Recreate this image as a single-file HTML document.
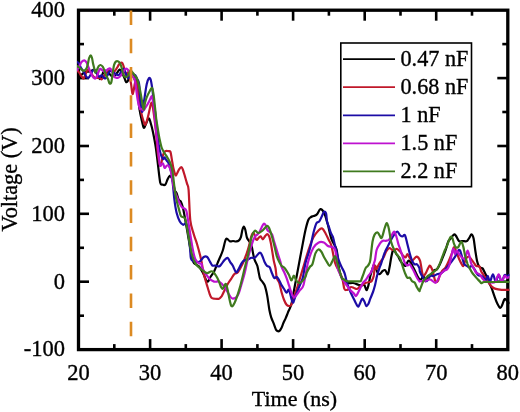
<!DOCTYPE html>
<html><head><meta charset="utf-8"><style>
html,body{margin:0;padding:0;background:#fff;}
svg{display:block;}
text{font-family:"Liberation Serif","Times New Roman",serif;fill:#000;stroke:#000;stroke-width:0.35px;}
</style></head><body>
<svg width="520" height="412" viewBox="0 0 520 412">
<defs><clipPath id="pc"><rect x="77" y="8.5" width="432.5" height="342.5"/></clipPath></defs>
<rect width="520" height="412" fill="#fff"/>
<g stroke="#000" stroke-width="2.6"><line x1="114.3" y1="349.6" x2="114.3" y2="344.1"/><line x1="114.3" y1="10.2" x2="114.3" y2="15.7"/><line x1="150.1" y1="349.6" x2="150.1" y2="339.1"/><line x1="150.1" y1="10.2" x2="150.1" y2="20.7"/><line x1="185.8" y1="349.6" x2="185.8" y2="344.1"/><line x1="185.8" y1="10.2" x2="185.8" y2="15.7"/><line x1="221.6" y1="349.6" x2="221.6" y2="339.1"/><line x1="221.6" y1="10.2" x2="221.6" y2="20.7"/><line x1="257.4" y1="349.6" x2="257.4" y2="344.1"/><line x1="257.4" y1="10.2" x2="257.4" y2="15.7"/><line x1="293.1" y1="349.6" x2="293.1" y2="339.1"/><line x1="293.1" y1="10.2" x2="293.1" y2="20.7"/><line x1="328.9" y1="349.6" x2="328.9" y2="344.1"/><line x1="328.9" y1="10.2" x2="328.9" y2="15.7"/><line x1="364.7" y1="349.6" x2="364.7" y2="339.1"/><line x1="364.7" y1="10.2" x2="364.7" y2="20.7"/><line x1="400.5" y1="349.6" x2="400.5" y2="344.1"/><line x1="400.5" y1="10.2" x2="400.5" y2="15.7"/><line x1="436.2" y1="349.6" x2="436.2" y2="339.1"/><line x1="436.2" y1="10.2" x2="436.2" y2="20.7"/><line x1="472.0" y1="349.6" x2="472.0" y2="344.1"/><line x1="472.0" y1="10.2" x2="472.0" y2="15.7"/><line x1="78.5" y1="315.7" x2="84.0" y2="315.7"/><line x1="507.8" y1="315.7" x2="502.3" y2="315.7"/><line x1="78.5" y1="281.7" x2="89.0" y2="281.7"/><line x1="507.8" y1="281.7" x2="497.3" y2="281.7"/><line x1="78.5" y1="247.8" x2="84.0" y2="247.8"/><line x1="507.8" y1="247.8" x2="502.3" y2="247.8"/><line x1="78.5" y1="213.8" x2="89.0" y2="213.8"/><line x1="507.8" y1="213.8" x2="497.3" y2="213.8"/><line x1="78.5" y1="179.9" x2="84.0" y2="179.9"/><line x1="507.8" y1="179.9" x2="502.3" y2="179.9"/><line x1="78.5" y1="146.0" x2="89.0" y2="146.0"/><line x1="507.8" y1="146.0" x2="497.3" y2="146.0"/><line x1="78.5" y1="112.0" x2="84.0" y2="112.0"/><line x1="507.8" y1="112.0" x2="502.3" y2="112.0"/><line x1="78.5" y1="78.1" x2="89.0" y2="78.1"/><line x1="507.8" y1="78.1" x2="497.3" y2="78.1"/><line x1="78.5" y1="44.1" x2="84.0" y2="44.1"/><line x1="507.8" y1="44.1" x2="502.3" y2="44.1"/></g>
<rect x="78.5" y="10.2" width="429.3" height="339.4" fill="none" stroke="#000" stroke-width="3.3"/>
<g clip-path="url(#pc)" fill="none" stroke-width="2.2" stroke-linejoin="round" stroke-linecap="round">
<path d="M77.0,74.0 C77.5,74.3 79.0,76.1 80.0,76.0 C81.0,75.9 82.0,74.2 83.0,73.5 C84.0,72.8 85.0,72.3 86.0,72.0 C87.0,71.7 88.0,71.8 89.0,71.5 C90.0,71.2 91.2,70.8 92.0,70.5 C92.8,70.2 93.4,69.3 94.0,69.6 C94.6,69.8 95.1,71.1 95.7,72.0 C96.3,72.9 96.8,73.7 97.5,74.9 C98.2,76.1 99.1,78.7 99.8,79.0 C100.5,79.3 101.0,77.8 101.6,76.6 C102.2,75.4 102.8,73.0 103.5,72.0 C104.2,71.0 104.8,70.5 105.5,70.5 C106.2,70.5 107.2,71.2 108.0,72.0 C108.8,72.8 109.7,74.3 110.5,75.0 C111.3,75.7 111.9,76.4 112.7,76.4 C113.5,76.4 114.6,75.7 115.4,75.0 C116.2,74.3 116.8,73.2 117.5,72.3 C118.2,71.4 118.9,69.8 119.5,69.6 C120.1,69.4 120.6,70.2 121.2,71.0 C121.8,71.8 122.3,73.2 122.9,74.4 C123.5,75.6 124.1,77.2 124.6,78.4 C125.1,79.7 125.5,81.4 126.0,81.9 C126.5,82.4 127.2,81.9 127.7,81.2 C128.2,80.5 128.5,79.0 129.0,77.8 C129.5,76.6 129.8,74.3 130.5,74.0 C131.2,73.7 132.0,74.1 133.0,76.0 C134.0,77.9 135.6,79.8 136.7,85.2 C137.8,90.6 138.5,102.5 139.4,108.5 C140.3,114.5 141.3,118.1 142.0,121.3 C142.7,124.5 143.1,127.1 143.7,127.7 C144.3,128.3 144.7,126.6 145.5,125.0 C146.3,123.4 147.9,118.5 148.8,118.3 C149.7,118.1 150.2,121.5 150.9,123.8 C151.6,126.1 152.2,128.4 153.0,132.3 C153.8,136.2 155.0,142.1 155.8,147.5 C156.6,152.9 157.3,159.2 158.0,165.0 C158.7,170.8 159.5,179.1 160.2,182.4 C160.9,185.7 161.6,184.2 162.4,184.6 C163.2,185.0 164.5,185.4 165.3,184.6 C166.2,183.8 166.8,180.9 167.5,179.5 C168.2,178.1 169.0,176.2 169.7,175.9 C170.4,175.7 171.2,176.8 171.8,178.0 C172.4,179.2 172.8,181.0 173.3,183.0 C173.8,185.0 174.2,188.3 174.7,190.0 C175.2,191.7 175.8,191.4 176.5,193.0 C177.2,194.6 178.0,198.2 178.7,199.7 C179.4,201.2 180.2,200.4 180.9,201.8 C181.6,203.2 182.4,205.4 183.1,208.4 C183.8,211.4 184.6,216.0 185.3,220.0 C186.0,224.0 186.8,228.2 187.5,232.4 C188.2,236.6 189.0,241.0 189.7,245.0 C190.4,249.0 191.1,253.4 191.8,256.4 C192.5,259.4 192.8,261.4 194.0,263.0 C195.2,264.6 197.3,264.6 198.8,266.3 C200.3,268.0 201.6,270.4 203.0,273.0 C204.4,275.6 206.0,281.0 207.3,281.6 C208.6,282.2 209.6,278.2 210.7,276.5 C211.8,274.8 212.9,273.8 214.1,271.4 C215.3,269.0 216.6,265.4 218.0,262.0 C219.4,258.6 221.3,254.8 222.6,251.0 C223.9,247.2 224.8,240.7 226.0,239.1 C227.2,237.5 228.8,241.1 230.0,241.4 C231.2,241.7 232.0,241.0 233.0,241.0 C234.0,241.0 235.1,241.6 236.0,241.5 C236.9,241.4 237.9,241.4 238.7,240.7 C239.5,240.0 240.3,238.9 240.9,237.1 C241.5,235.3 241.9,231.6 242.4,229.8 C242.9,228.1 243.3,226.6 243.8,226.6 C244.3,226.6 244.8,228.1 245.3,229.8 C245.8,231.6 246.3,235.4 246.8,237.1 C247.3,238.8 247.6,239.0 248.2,240.0 C248.8,241.0 249.8,241.7 250.4,242.9 C251.0,244.1 251.4,245.4 251.9,247.3 C252.4,249.2 252.8,252.4 253.3,254.6 C253.8,256.8 254.1,258.5 254.8,260.4 C255.5,262.3 256.5,263.1 257.4,266.0 C258.2,268.9 259.1,275.5 259.9,278.1 C260.7,280.7 261.5,280.5 262.3,281.7 C263.1,282.9 263.9,283.2 264.7,285.4 C265.5,287.6 266.3,291.0 267.1,295.1 C267.9,299.2 268.7,306.3 269.4,310.0 C270.1,313.7 270.4,314.9 271.2,317.3 C272.0,319.7 273.3,322.5 274.1,324.6 C274.9,326.7 275.4,328.6 276.0,329.7 C276.6,330.8 277.4,331.0 278.0,331.2 C278.6,331.4 278.9,331.4 279.5,330.9 C280.1,330.4 280.6,329.5 281.3,328.2 C282.0,326.9 282.8,324.4 283.5,322.8 C284.2,321.2 284.9,320.0 285.6,318.4 C286.3,316.8 287.2,314.4 287.8,312.9 C288.4,311.3 289.0,310.2 289.5,309.1 C290.0,308.0 290.2,307.7 290.6,306.4 C291.0,305.1 291.3,305.1 292.0,301.5 C292.7,297.9 293.8,291.3 295.0,285.0 C296.2,278.7 297.7,270.8 299.0,263.7 C300.3,256.6 301.9,248.2 303.0,242.4 C304.1,236.6 304.8,232.8 305.7,229.0 C306.6,225.2 307.5,221.7 308.4,219.7 C309.3,217.7 310.2,217.6 311.0,217.0 C311.8,216.4 312.4,216.5 313.4,216.1 C314.4,215.7 315.7,215.6 316.9,214.4 C318.1,213.2 319.2,209.4 320.4,209.1 C321.6,208.8 322.7,210.2 323.9,212.6 C325.1,214.9 326.2,218.8 327.5,223.2 C328.8,227.6 330.0,234.8 331.5,239.2 C333.0,243.6 335.2,244.5 336.5,249.4 C337.8,254.3 338.1,263.9 339.1,268.9 C340.1,273.9 341.1,277.1 342.6,279.5 C344.1,281.9 346.2,282.4 347.9,283.0 C349.6,283.6 351.2,282.7 353.0,283.0 C354.8,283.3 357.1,284.4 358.5,284.8 C359.9,285.2 360.5,285.5 361.5,285.5 C362.5,285.5 363.5,284.2 364.3,285.0 C365.1,285.8 365.7,289.5 366.3,290.0 C366.9,290.5 367.2,289.2 367.7,288.0 C368.1,286.8 368.6,284.7 369.0,282.7 C369.4,280.7 369.8,278.2 370.3,276.0 C370.9,273.8 371.6,271.1 372.3,269.3 C373.0,267.5 373.4,264.7 374.3,265.3 C375.2,265.9 376.7,271.2 377.6,272.7 C378.6,274.1 379.1,274.3 380.0,274.0 C380.9,273.7 381.8,271.6 382.7,271.0 C383.6,270.4 384.3,269.6 385.2,270.2 C386.1,270.8 387.1,274.8 387.8,274.4 C388.5,274.0 388.9,270.4 389.5,267.6 C390.1,264.8 390.6,260.2 391.2,257.4 C391.8,254.6 392.3,251.7 392.9,250.6 C393.5,249.5 394.0,250.0 394.6,250.6 C395.2,251.2 395.7,253.1 396.3,254.0 C396.9,254.9 397.3,254.8 398.0,256.0 C398.7,257.2 399.6,259.6 400.5,261.0 C401.4,262.4 402.2,263.4 403.1,264.2 C404.0,265.0 404.8,266.5 405.6,265.9 C406.5,265.3 407.4,261.4 408.2,260.8 C409.0,260.2 409.8,261.4 410.7,262.5 C411.6,263.6 412.4,265.9 413.3,267.6 C414.2,269.3 415.0,271.0 415.8,272.7 C416.6,274.4 417.5,276.7 418.4,277.8 C419.2,278.9 420.0,279.8 420.9,279.5 C421.8,279.2 422.7,275.7 423.5,276.0 C424.3,276.3 424.8,281.0 425.5,281.3 C426.2,281.6 426.9,278.9 427.9,277.7 C428.9,276.5 430.6,275.2 431.6,274.0 C432.6,272.8 433.1,271.2 434.0,270.4 C434.9,269.6 436.0,270.3 437.0,269.2 C438.0,268.1 439.1,265.7 440.0,264.0 C440.9,262.3 441.2,261.2 442.1,259.0 C443.0,256.8 444.5,253.3 445.5,250.5 C446.5,247.7 447.2,244.0 448.1,242.0 C449.0,240.0 449.8,239.7 450.6,238.6 C451.5,237.5 452.5,235.9 453.2,235.2 C453.9,234.5 454.3,234.1 454.9,234.4 C455.5,234.7 455.9,235.8 456.6,236.9 C457.3,238.0 458.2,240.5 459.1,241.2 C460.0,241.9 460.9,241.2 461.7,241.2 C462.5,241.2 463.3,241.2 464.2,241.2 C465.1,241.2 465.9,241.8 466.8,241.2 C467.7,240.6 468.5,238.9 469.3,237.8 C470.1,236.7 470.8,234.3 471.5,234.4 C472.2,234.5 473.0,235.9 473.6,238.6 C474.2,241.3 474.7,246.8 475.3,250.5 C475.9,254.2 476.4,258.1 477.0,260.7 C477.6,263.2 478.0,264.6 478.7,265.8 C479.4,267.0 480.3,267.6 481.0,268.0 C481.7,268.4 481.9,267.4 482.7,268.5 C483.5,269.6 484.6,272.1 485.6,274.3 C486.6,276.5 487.5,279.4 488.5,281.6 C489.5,283.8 490.4,285.1 491.4,287.5 C492.4,289.9 493.4,293.5 494.4,296.2 C495.4,298.9 496.3,301.6 497.3,303.5 C498.3,305.4 499.4,307.6 500.2,307.9 C501.0,308.1 501.5,306.5 502.2,305.0 C502.9,303.5 503.8,299.8 504.6,299.1 C505.4,298.4 506.2,300.0 506.9,300.6 C507.6,301.2 508.6,302.6 509.0,303.0" stroke="#000000"/>
<path d="M77.0,70.0 C77.4,70.4 78.5,71.7 79.2,72.6 C79.9,73.5 80.3,74.6 80.9,75.5 C81.5,76.4 82.2,77.3 82.7,77.8 C83.2,78.3 83.4,78.9 83.8,78.4 C84.2,77.9 84.8,76.2 85.3,75.0 C85.8,73.8 86.3,72.3 86.7,71.4 C87.1,70.5 87.4,69.7 87.9,69.6 C88.4,69.5 88.9,70.3 89.5,71.0 C90.1,71.7 90.8,73.0 91.5,74.0 C92.2,75.0 93.2,76.3 94.0,77.0 C94.8,77.7 95.5,77.9 96.5,78.0 C97.5,78.1 99.0,77.5 99.8,77.8 C100.6,78.0 101.0,79.6 101.6,79.5 C102.2,79.4 102.8,78.1 103.5,77.0 C104.2,75.9 105.2,74.1 106.0,73.0 C106.8,71.9 107.7,70.9 108.5,70.5 C109.3,70.1 110.1,70.3 111.0,70.5 C111.9,70.7 113.1,72.0 114.1,71.6 C115.1,71.2 116.0,69.3 116.8,68.2 C117.6,67.1 118.1,65.7 118.8,64.8 C119.5,63.9 120.3,63.0 120.9,62.8 C121.5,62.6 122.1,62.9 122.6,63.5 C123.0,64.1 123.3,65.1 123.6,66.2 C123.9,67.3 124.2,68.5 124.6,70.0 C125.0,71.5 125.4,74.8 126.0,75.2 C126.6,75.6 127.4,72.0 128.0,72.3 C128.6,72.6 128.9,75.4 129.4,77.2 C129.9,79.0 130.3,80.2 130.9,83.0 C131.5,85.8 132.0,94.4 132.8,94.0 C133.6,93.6 134.8,80.7 135.7,80.4 C136.6,80.1 137.1,86.8 138.0,92.0 C138.9,97.2 140.2,107.1 141.1,111.9 C142.0,116.7 142.8,118.9 143.5,121.0 C144.2,123.1 144.7,125.4 145.4,124.7 C146.1,124.0 147.1,119.8 147.9,117.0 C148.7,114.2 149.4,110.1 150.0,107.7 C150.6,105.3 151.0,102.5 151.5,102.5 C152.0,102.5 152.3,103.4 153.0,108.0 C153.7,112.6 155.1,123.0 155.8,130.0 C156.6,137.0 156.9,144.4 157.5,150.0 C158.1,155.6 158.9,161.0 159.5,163.5 C160.1,166.0 160.3,166.5 160.9,165.0 C161.5,163.5 162.4,157.0 163.1,154.7 C163.8,152.4 164.5,151.7 165.3,151.1 C166.2,150.5 167.3,151.0 168.2,151.1 C169.0,151.2 169.8,150.5 170.4,151.8 C171.0,153.1 171.3,156.4 171.8,159.1 C172.3,161.8 172.7,165.1 173.3,167.8 C173.9,170.5 174.9,174.1 175.5,175.1 C176.1,176.1 176.3,174.7 176.9,173.7 C177.5,172.7 178.4,170.4 179.1,169.3 C179.8,168.2 180.7,167.1 181.3,167.1 C181.9,167.1 182.2,167.7 182.8,169.3 C183.4,170.9 184.3,174.2 185.0,176.6 C185.7,179.0 186.5,181.7 187.1,183.9 C187.7,186.1 188.1,183.9 188.6,190.0 C189.1,196.1 189.5,213.1 190.3,220.4 C191.2,227.7 192.6,230.0 193.7,234.0 C194.8,238.0 195.8,239.8 197.1,244.2 C198.4,248.6 200.2,255.4 201.3,260.4 C202.4,265.4 202.8,269.8 203.8,274.0 C204.8,278.2 206.2,282.5 207.2,285.9 C208.2,289.3 209.1,292.4 209.8,294.4 C210.5,296.4 210.8,297.1 211.5,297.8 C212.2,298.5 212.7,298.6 214.0,298.7 C215.3,298.8 217.8,299.1 219.1,298.7 C220.4,298.3 220.8,297.4 221.7,296.1 C222.5,294.8 223.2,293.0 224.2,291.0 C225.2,289.0 226.5,286.2 227.6,284.2 C228.7,282.2 229.9,280.8 231.0,279.1 C232.1,277.4 233.3,275.1 234.4,274.0 C235.5,272.9 236.4,274.1 237.8,272.3 C239.2,270.5 241.8,265.4 243.0,263.0 C244.2,260.6 244.4,259.6 245.0,258.0 C245.6,256.4 246.1,255.1 246.8,253.1 C247.5,251.1 248.3,248.5 249.0,245.8 C249.7,243.1 250.5,239.2 251.1,237.1 C251.7,235.0 252.1,234.0 252.6,233.4 C253.1,232.8 253.5,232.7 254.0,233.5 C254.5,234.3 255.0,237.4 255.5,238.5 C256.0,239.6 256.5,240.1 257.0,240.0 C257.5,239.9 257.9,238.6 258.5,238.0 C259.1,237.4 259.9,236.1 260.6,236.3 C261.3,236.5 262.1,239.3 262.8,239.3 C263.5,239.3 264.3,237.2 265.0,236.3 C265.7,235.5 266.5,234.2 267.2,234.2 C267.9,234.2 268.6,235.1 269.2,236.5 C269.8,237.9 270.3,240.4 270.8,242.9 C271.3,245.4 271.8,248.7 272.3,251.6 C272.8,254.5 273.2,257.7 273.7,260.4 C274.2,263.1 275.0,265.1 275.5,268.0 C276.0,270.9 276.2,275.6 276.8,278.1 C277.4,280.6 278.5,280.6 279.3,283.0 C280.1,285.4 280.9,289.9 281.7,292.7 C282.5,295.5 283.3,298.0 284.1,300.0 C284.9,302.0 285.8,303.8 286.6,304.8 C287.4,305.8 288.2,306.0 289.0,306.0 C289.8,306.0 290.6,306.2 291.4,304.8 C292.2,303.4 292.8,300.6 293.8,297.5 C294.8,294.4 296.0,291.3 297.5,286.5 C299.0,281.7 301.0,274.8 302.8,268.9 C304.6,263.0 306.3,256.6 308.1,251.3 C309.9,246.0 311.6,240.8 313.4,237.3 C315.2,233.8 317.2,231.7 318.7,230.2 C320.2,228.7 321.0,227.9 322.2,228.5 C323.4,229.1 324.5,231.6 325.7,233.7 C326.9,235.8 328.2,238.8 329.2,240.8 C330.2,242.9 330.5,242.3 331.5,246.0 C332.5,249.7 333.8,258.7 335.0,262.7 C336.2,266.7 337.3,267.3 338.5,270.0 C339.7,272.7 341.3,275.6 342.3,278.7 C343.3,281.8 343.6,286.8 344.3,288.7 C345.0,290.6 345.6,289.9 346.3,290.0 C347.0,290.1 347.5,289.8 348.3,289.3 C349.1,288.8 350.1,287.2 351.0,287.0 C351.9,286.8 353.0,287.7 354.0,288.0 C355.0,288.3 356.1,289.2 357.0,289.0 C357.9,288.8 358.7,287.6 359.5,287.0 C360.3,286.4 360.7,286.0 361.7,285.3 C362.7,284.6 364.2,283.6 365.5,283.0 C366.8,282.4 368.7,282.3 369.7,282.0 C370.7,281.7 371.0,282.0 371.7,281.0 C372.4,280.0 373.1,278.5 373.7,276.0 C374.2,273.5 374.5,267.1 375.0,265.9 C375.5,264.7 376.1,269.1 376.7,269.0 C377.3,268.9 377.8,266.3 378.5,265.0 C379.2,263.7 380.2,262.3 381.0,261.0 C381.8,259.7 382.6,259.1 383.5,257.4 C384.4,255.7 385.5,252.6 386.5,251.0 C387.5,249.4 388.6,248.2 389.5,248.0 C390.4,247.8 391.1,249.5 392.0,249.8 C392.9,250.1 393.8,250.0 394.6,249.8 C395.5,249.7 396.1,248.5 397.1,248.9 C398.1,249.3 399.5,250.9 400.5,252.0 C401.5,253.1 402.2,254.8 403.1,255.7 C404.0,256.6 404.9,257.7 405.6,257.4 C406.3,257.1 406.7,254.1 407.3,254.0 C407.9,253.9 408.3,255.5 409.0,256.6 C409.7,257.7 410.8,260.4 411.6,260.8 C412.4,261.2 413.1,259.7 414.0,259.0 C414.9,258.3 415.7,256.3 416.7,256.6 C417.7,256.9 419.0,257.8 420.0,260.7 C421.0,263.6 421.8,272.0 422.6,274.3 C423.5,276.6 424.1,275.4 425.1,274.3 C426.1,273.2 427.6,268.9 428.5,267.5 C429.4,266.1 429.5,265.2 430.2,265.8 C430.9,266.4 431.8,268.4 432.7,271.0 C433.6,273.6 434.4,279.4 435.3,281.1 C436.2,282.8 437.1,282.0 437.8,281.1 C438.5,280.2 438.9,277.7 439.6,276.0 C440.3,274.3 441.1,272.3 442.1,270.9 C443.1,269.5 444.4,269.2 445.5,267.5 C446.6,265.8 447.8,263.2 448.9,260.7 C450.0,258.1 451.4,254.5 452.3,252.2 C453.2,249.9 453.3,247.1 454.0,247.1 C454.7,247.1 455.8,250.2 456.6,252.2 C457.5,254.2 458.2,257.0 459.1,259.0 C460.0,261.0 461.0,263.0 461.7,264.1 C462.4,265.2 462.7,266.7 463.4,265.8 C464.1,264.9 465.0,260.6 465.9,259.0 C466.8,257.4 467.6,256.5 468.5,256.5 C469.4,256.5 470.1,258.0 471.0,259.0 C471.9,260.0 472.8,261.3 473.6,262.4 C474.5,263.5 475.1,265.1 476.1,265.8 C477.1,266.5 478.6,265.7 479.5,266.6 C480.4,267.5 480.4,269.9 481.2,271.4 C482.0,272.9 483.2,274.3 484.2,275.8 C485.2,277.3 486.1,278.8 487.1,280.2 C488.1,281.6 489.0,283.3 490.0,284.5 C491.0,285.7 491.9,286.8 492.9,287.5 C493.9,288.2 494.4,288.5 495.8,288.9 C497.2,289.3 499.4,289.6 501.6,289.8 C503.8,290.0 507.8,289.8 509.0,289.8" stroke="#C0182A"/>
<path d="M77.0,62.0 C77.4,62.3 78.5,62.8 79.2,63.8 C79.9,64.8 80.2,66.7 80.9,67.9 C81.6,69.1 82.5,69.7 83.2,70.8 C83.9,71.9 84.4,73.2 85.0,74.3 C85.6,75.4 86.1,76.6 86.7,77.2 C87.3,77.8 87.9,78.2 88.5,77.8 C89.1,77.4 89.8,76.2 90.5,75.0 C91.2,73.8 91.9,71.6 92.6,70.8 C93.3,70.0 93.8,69.8 94.5,70.0 C95.2,70.2 95.9,71.2 96.5,72.0 C97.1,72.8 97.5,74.2 98.0,75.0 C98.5,75.8 99.0,76.9 99.5,77.0 C100.0,77.1 100.5,75.8 101.0,75.5 C101.5,75.2 101.7,75.1 102.2,75.5 C102.7,75.9 103.3,77.3 103.9,77.8 C104.5,78.3 105.0,78.8 105.6,78.4 C106.2,78.0 106.8,76.6 107.4,75.5 C108.0,74.4 108.5,72.8 109.1,72.0 C109.7,71.2 110.2,70.8 110.9,70.8 C111.6,70.8 112.2,71.5 113.0,72.0 C113.8,72.5 114.5,73.5 115.5,74.0 C116.5,74.5 117.9,75.3 118.8,75.0 C119.7,74.7 120.3,73.0 121.0,72.0 C121.7,71.0 122.4,69.3 122.9,68.9 C123.5,68.5 123.8,68.9 124.3,69.6 C124.8,70.3 125.1,71.9 125.6,73.0 C126.0,74.1 126.5,75.1 127.0,76.0 C127.5,76.9 127.8,78.4 128.4,78.4 C129.0,78.4 129.8,76.8 130.5,76.0 C131.2,75.2 131.7,73.5 132.3,73.3 C132.9,73.1 133.5,74.3 134.0,74.6 C134.5,74.9 134.7,74.5 135.2,75.2 C135.7,76.0 136.5,77.6 137.2,79.1 C137.8,80.6 138.5,79.5 139.1,84.0 C139.7,88.5 140.4,101.4 141.0,106.0 C141.6,110.6 141.8,113.0 142.4,111.5 C143.0,110.0 143.9,101.8 144.6,97.3 C145.3,92.8 146.0,87.4 146.7,84.2 C147.4,81.0 148.2,79.0 148.9,78.2 C149.6,77.4 150.2,78.3 150.6,79.3 C151.0,80.3 151.2,82.1 151.6,84.2 C151.9,86.3 152.3,88.7 152.7,91.8 C153.1,94.9 153.3,98.9 153.8,102.8 C154.3,106.7 155.0,110.5 155.5,115.0 C156.0,119.5 156.5,125.1 157.0,130.0 C157.5,134.9 158.0,140.5 158.7,144.6 C159.3,148.7 160.2,152.3 160.9,154.7 C161.6,157.1 162.5,158.6 163.1,159.1 C163.7,159.6 164.0,157.2 164.6,157.5 C165.2,157.8 166.0,159.7 166.7,160.6 C167.3,161.5 167.9,161.6 168.5,163.0 C169.1,164.4 169.8,167.3 170.4,169.3 C171.0,171.3 171.3,171.8 171.8,175.0 C172.3,178.2 172.9,184.6 173.3,188.7 C173.7,192.8 173.9,195.7 174.4,199.7 C174.9,203.7 175.7,209.2 176.6,212.8 C177.5,216.4 178.7,219.5 179.8,221.5 C180.9,223.5 182.0,224.4 183.1,224.8 C184.2,225.2 185.5,222.1 186.4,223.7 C187.3,225.3 188.0,230.2 188.6,234.6 C189.2,239.0 189.8,246.2 190.2,250.2 C190.6,254.2 190.4,256.8 191.0,258.7 C191.6,260.6 192.6,260.7 193.6,261.3 C194.6,261.9 195.9,262.2 197.0,262.1 C198.1,262.1 199.3,261.9 200.4,261.0 C201.5,260.1 202.7,257.7 203.8,257.0 C204.9,256.3 206.2,256.3 207.2,257.0 C208.2,257.7 209.0,259.9 209.8,261.3 C210.7,262.7 211.3,264.8 212.3,265.5 C213.3,266.2 214.6,265.4 215.7,265.5 C216.8,265.6 218.1,266.7 219.1,266.4 C220.1,266.1 220.8,264.8 221.7,263.8 C222.5,262.8 223.2,261.4 224.2,260.4 C225.2,259.4 226.6,257.6 227.6,257.9 C228.6,258.2 229.3,260.8 230.2,262.1 C231.0,263.4 231.7,263.8 232.7,265.5 C233.7,267.2 235.1,271.7 236.1,272.3 C237.1,272.9 237.5,270.8 238.7,268.9 C239.8,267.0 241.4,262.8 243.0,261.2 C244.6,259.6 246.7,260.1 248.1,259.5 C249.5,258.9 250.3,258.1 251.5,257.8 C252.7,257.5 253.6,258.4 255.0,257.5 C256.4,256.6 258.7,252.8 259.9,252.6 C261.1,252.3 261.5,254.4 262.3,256.0 C263.1,257.6 263.9,260.6 264.7,262.3 C265.5,264.0 266.3,265.2 267.1,266.0 C267.9,266.8 268.8,266.0 269.6,267.2 C270.4,268.4 271.2,271.5 272.0,273.3 C272.8,275.1 273.6,277.5 274.4,278.1 C275.2,278.7 276.0,276.5 276.8,276.9 C277.6,277.3 278.5,279.1 279.3,280.5 C280.1,281.9 280.9,284.0 281.7,285.4 C282.5,286.8 283.3,287.8 284.1,289.0 C284.9,290.2 285.8,292.5 286.6,292.7 C287.4,292.9 288.0,288.4 289.0,290.0 C290.0,291.6 291.6,301.1 292.6,302.4 C293.6,303.6 294.0,299.9 295.0,297.5 C296.0,295.1 297.4,291.1 298.7,287.8 C300.0,284.5 301.7,281.8 302.8,277.7 C303.9,273.6 304.6,266.8 305.5,263.0 C306.4,259.2 307.2,257.7 308.0,255.0 C308.8,252.3 309.6,250.3 310.5,246.6 C311.4,242.9 312.4,236.9 313.4,233.0 C314.4,229.1 315.4,225.2 316.4,223.3 C317.4,221.4 318.3,222.7 319.3,221.4 C320.3,220.1 321.4,217.1 322.2,215.5 C323.0,213.9 323.5,212.0 324.1,211.7 C324.8,211.4 325.6,212.0 326.1,213.6 C326.6,215.2 326.5,219.1 327.0,221.4 C327.5,223.7 328.4,225.3 329.0,227.2 C329.6,229.1 330.2,231.4 330.9,233.0 C331.5,234.6 332.2,235.0 332.9,236.9 C333.5,238.8 334.2,242.1 334.8,244.7 C335.4,247.3 336.1,249.8 336.7,252.4 C337.3,255.0 337.9,257.8 338.7,260.2 C339.5,262.6 340.6,264.9 341.6,267.0 C342.6,269.1 343.7,270.8 344.5,273.0 C345.3,275.2 345.7,277.7 346.3,280.0 C346.9,282.3 347.5,284.5 348.3,286.7 C349.1,288.9 350.1,291.3 351.0,293.3 C351.9,295.3 352.8,296.9 353.7,298.7 C354.6,300.5 355.5,302.7 356.3,304.0 C357.1,305.3 357.6,306.9 358.3,306.7 C359.0,306.5 359.6,304.0 360.3,302.7 C361.0,301.4 361.6,298.9 362.3,298.7 C363.0,298.5 363.6,300.1 364.3,301.3 C365.0,302.5 365.6,305.6 366.3,306.0 C367.0,306.4 367.6,305.2 368.3,304.0 C369.0,302.8 369.5,300.7 370.3,298.7 C371.1,296.7 372.2,294.2 373.0,292.0 C373.8,289.8 374.3,288.0 375.0,285.3 C375.7,282.6 376.3,278.7 377.0,276.0 C377.7,273.3 378.3,271.3 379.0,269.3 C379.7,267.3 380.4,265.6 381.0,264.0 C381.6,262.4 381.7,262.0 382.3,260.0 C382.9,258.0 383.9,254.4 384.9,252.1 C385.8,249.8 387.0,248.0 388.0,245.9 C389.0,243.8 390.1,241.6 391.1,239.7 C392.1,237.8 393.2,236.0 394.2,234.6 C395.2,233.2 396.3,231.4 397.3,231.5 C398.3,231.6 399.1,234.4 400.0,235.2 C400.9,236.0 401.7,236.5 402.5,236.5 C403.3,236.5 404.1,234.0 404.9,235.2 C405.7,236.4 406.5,240.7 407.3,243.7 C408.1,246.7 408.9,250.6 409.7,253.4 C410.5,256.2 411.3,258.9 412.1,260.7 C412.9,262.5 413.8,263.7 414.6,264.3 C415.4,264.9 416.2,263.7 417.0,264.3 C417.8,264.9 418.9,266.7 419.4,268.0 C419.9,269.3 419.3,270.3 420.0,272.0 C420.7,273.7 422.3,276.5 423.4,278.0 C424.5,279.5 425.7,281.4 426.8,281.1 C427.9,280.8 429.1,276.9 430.2,276.0 C431.3,275.1 432.5,276.3 433.6,276.0 C434.7,275.7 435.6,274.9 437.0,274.3 C438.4,273.7 440.7,273.5 442.1,272.6 C443.5,271.8 444.4,270.5 445.5,269.2 C446.6,267.9 447.8,266.4 448.9,265.0 C450.0,263.6 451.2,262.3 452.3,260.7 C453.4,259.1 454.7,257.3 455.7,255.6 C456.7,253.9 457.6,251.3 458.3,250.5 C459.0,249.7 459.4,249.7 460.0,250.5 C460.6,251.3 461.0,253.3 461.7,255.6 C462.4,257.9 463.3,262.4 464.2,264.1 C465.1,265.8 465.9,265.2 466.8,265.8 C467.7,266.4 468.5,267.5 469.3,267.5 C470.1,267.5 471.0,265.5 471.9,265.8 C472.8,266.1 473.4,267.7 474.4,269.2 C475.4,270.7 476.9,273.9 478.0,275.0 C479.1,276.1 480.2,275.2 481.2,275.8 C482.2,276.4 483.5,277.7 484.2,278.7 C484.9,279.7 485.0,282.1 485.6,281.6 C486.2,281.1 487.0,275.8 487.7,275.8 C488.4,275.8 489.1,281.9 490.0,281.6 C490.9,281.4 491.9,274.3 492.9,274.3 C493.9,274.3 494.8,281.5 495.8,281.6 C496.8,281.7 497.7,275.0 498.7,275.0 C499.7,275.0 500.6,281.6 501.6,281.6 C502.6,281.6 503.7,275.9 504.6,275.0 C505.5,274.1 506.3,276.5 507.0,276.5 C507.7,276.5 508.7,275.2 509.0,275.0" stroke="#1C0CA6"/>
<path d="M77.0,70.0 C77.5,69.3 79.0,66.9 79.7,65.6 C80.5,64.3 80.7,63.0 81.5,62.1 C82.3,61.2 83.5,60.2 84.4,60.3 C85.3,60.4 86.1,61.8 86.7,62.7 C87.3,63.7 87.4,64.5 88.0,66.0 C88.6,67.5 89.5,69.8 90.2,71.4 C90.9,73.0 91.4,74.4 92.0,75.5 C92.6,76.6 93.1,77.3 93.7,77.8 C94.3,78.3 94.9,79.0 95.5,78.5 C96.1,78.0 96.8,76.6 97.5,75.0 C98.2,73.4 99.0,69.9 99.8,69.1 C100.5,68.3 101.2,69.5 102.0,70.0 C102.8,70.5 103.6,72.1 104.5,72.0 C105.4,71.9 106.6,70.2 107.4,69.6 C108.2,69.0 108.5,68.6 109.1,68.5 C109.7,68.4 110.3,68.4 110.9,69.1 C111.5,69.8 112.0,71.3 112.5,72.5 C113.0,73.7 113.5,75.5 114.1,76.4 C114.7,77.3 115.4,77.6 116.1,77.8 C116.8,78.0 117.5,78.0 118.2,77.8 C118.9,77.6 119.5,77.2 120.2,76.4 C120.9,75.6 121.6,74.2 122.5,73.0 C123.4,71.8 124.7,69.5 125.6,68.9 C126.5,68.3 127.0,69.0 127.7,69.6 C128.3,70.2 128.9,71.6 129.5,72.5 C130.1,73.4 130.9,74.2 131.5,75.0 C132.1,75.8 132.7,76.0 133.3,77.2 C133.9,78.4 134.5,78.2 135.2,82.0 C135.9,85.8 136.9,95.6 137.7,100.0 C138.5,104.4 139.2,107.0 139.8,108.5 C140.4,110.0 140.9,108.7 141.5,109.0 C142.1,109.3 142.8,110.7 143.5,110.4 C144.2,110.2 144.8,108.6 145.5,107.5 C146.2,106.4 147.1,105.1 147.8,103.8 C148.6,102.5 149.4,100.8 150.0,99.5 C150.6,98.2 151.1,96.1 151.6,96.2 C152.1,96.3 152.4,98.0 152.8,100.0 C153.2,102.0 153.6,103.8 154.0,108.0 C154.4,112.2 154.6,116.0 155.5,125.0 C156.4,134.0 158.6,155.3 159.5,162.0 C160.4,168.7 160.3,164.8 160.9,165.0 C161.5,165.2 162.5,163.0 163.1,163.5 C163.7,164.0 164.0,167.4 164.6,167.8 C165.2,168.2 166.0,166.0 166.7,165.7 C167.3,165.3 167.9,165.1 168.5,165.7 C169.1,166.3 169.8,167.5 170.4,169.3 C171.0,171.1 171.3,173.9 171.8,176.6 C172.3,179.3 172.8,182.9 173.3,185.3 C173.8,187.7 174.1,189.1 174.7,191.0 C175.3,192.9 176.2,195.0 177.0,197.0 C177.8,199.0 178.7,201.3 179.5,203.0 C180.3,204.7 181.2,206.4 182.0,207.3 C182.8,208.2 183.5,207.8 184.2,208.4 C184.9,209.0 185.7,208.4 186.4,211.0 C187.1,213.6 187.9,219.4 188.6,223.7 C189.3,228.0 190.0,232.4 190.7,236.8 C191.4,241.2 192.2,246.3 192.9,249.9 C193.6,253.5 194.2,256.4 195.1,258.6 C196.0,260.8 197.3,262.1 198.4,263.0 C199.5,263.9 201.1,263.2 201.7,264.0 C202.3,264.8 201.0,265.6 202.2,268.0 C203.4,270.4 207.0,275.9 209.0,278.2 C211.0,280.5 212.4,281.0 214.1,281.6 C215.8,282.2 217.5,280.8 219.2,281.6 C220.9,282.5 222.6,284.4 224.3,286.7 C226.0,289.0 228.0,293.2 229.4,295.2 C230.8,297.2 231.4,298.6 232.8,298.6 C234.2,298.6 236.5,297.5 237.9,295.2 C239.3,292.9 240.2,288.7 241.3,285.0 C242.4,281.3 243.6,277.6 244.7,273.1 C245.8,268.6 246.9,262.4 248.0,258.0 C249.1,253.7 250.1,250.0 251.0,247.0 C251.9,244.0 252.6,241.8 253.3,240.0 C254.1,238.2 254.8,237.0 255.5,236.0 C256.2,235.0 257.0,235.0 257.7,234.2 C258.4,233.4 259.2,232.4 259.9,231.2 C260.6,230.0 261.1,228.2 261.8,226.9 C262.5,225.7 263.2,223.9 263.8,223.7 C264.4,223.4 265.1,224.4 265.7,225.4 C266.3,226.4 266.7,228.8 267.2,229.8 C267.7,230.8 268.2,231.0 268.8,231.5 C269.4,232.0 270.2,232.1 270.8,232.7 C271.4,233.3 271.8,233.8 272.3,235.0 C272.8,236.2 273.1,237.9 273.7,240.0 C274.3,242.1 275.2,244.9 275.9,247.3 C276.6,249.7 277.3,252.2 278.1,254.6 C278.9,257.1 279.9,259.9 280.5,262.0 C281.1,264.1 281.1,265.5 281.7,267.2 C282.3,268.9 283.3,270.2 284.1,272.0 C284.9,273.8 285.8,275.9 286.6,278.1 C287.4,280.3 288.2,283.0 289.0,285.4 C289.8,287.8 290.6,290.7 291.4,292.7 C292.2,294.7 292.9,297.1 293.8,297.5 C294.7,297.9 295.5,296.2 296.5,295.0 C297.5,293.8 298.7,291.9 299.9,290.2 C301.1,288.5 302.1,289.7 303.5,285.0 C304.9,280.3 306.5,268.1 308.1,261.9 C309.8,255.7 311.6,251.0 313.4,247.8 C315.2,244.6 316.9,243.4 318.7,242.5 C320.4,241.6 322.3,241.9 323.9,242.5 C325.4,243.1 326.2,244.8 328.0,246.0 C329.8,247.2 333.3,245.7 334.9,249.4 C336.5,253.1 336.8,263.8 337.7,268.0 C338.6,272.2 339.4,272.7 340.3,274.7 C341.2,276.7 342.1,278.4 343.0,280.0 C343.9,281.6 344.8,282.8 345.7,284.0 C346.6,285.2 347.4,286.4 348.3,287.5 C349.2,288.6 350.1,289.7 351.0,290.7 C351.9,291.7 352.9,292.4 353.7,293.3 C354.5,294.2 355.1,295.8 355.7,296.0 C356.2,296.2 356.4,295.6 357.0,294.7 C357.6,293.8 358.3,292.0 359.0,290.7 C359.7,289.4 360.3,288.0 361.0,286.7 C361.7,285.4 362.2,283.8 363.0,282.7 C363.8,281.6 364.8,281.1 365.7,280.0 C366.6,278.9 367.5,277.1 368.3,276.0 C369.1,274.9 369.6,274.4 370.3,273.3 C371.0,272.2 371.7,270.9 372.3,269.3 C372.9,267.8 373.2,265.6 373.7,264.0 C374.1,262.4 374.5,262.3 375.0,260.0 C375.5,257.7 375.8,252.7 376.6,250.0 C377.4,247.3 378.7,245.4 379.7,243.9 C380.7,242.4 381.8,241.3 382.8,240.8 C383.8,240.3 384.9,241.0 385.9,240.8 C386.9,240.6 388.0,240.7 389.0,239.7 C390.0,238.7 391.2,236.0 392.1,234.6 C393.0,233.2 393.5,231.3 394.2,231.5 C394.9,231.7 395.5,233.9 396.2,236.0 C396.9,238.1 397.7,241.8 398.3,243.9 C398.9,246.0 399.3,246.5 400.0,248.5 C400.7,250.5 401.6,253.4 402.4,255.8 C403.2,258.2 404.1,261.5 404.9,263.1 C405.7,264.7 406.5,265.3 407.3,265.5 C408.1,265.7 408.9,263.9 409.7,264.3 C410.5,264.7 411.3,266.6 412.1,268.0 C412.9,269.4 413.8,271.2 414.6,272.8 C415.4,274.4 416.2,276.3 417.0,277.7 C417.8,279.1 418.9,280.7 419.4,281.3 C419.9,281.9 419.1,281.2 420.0,281.1 C420.9,281.1 423.3,281.3 425.0,281.0 C426.7,280.7 428.5,279.2 430.2,279.5 C431.9,279.8 434.0,282.9 435.3,282.8 C436.6,282.7 437.4,280.4 438.2,279.0 C439.0,277.6 439.5,275.7 440.4,274.3 C441.3,272.9 442.7,271.8 443.8,270.9 C444.9,270.0 446.3,270.2 447.2,269.2 C448.1,268.2 448.7,267.3 449.4,265.0 C450.1,262.7 450.9,258.3 451.5,255.6 C452.1,252.9 452.6,249.1 453.2,248.8 C453.8,248.5 454.3,253.6 454.9,253.9 C455.5,254.2 455.9,250.5 456.6,250.5 C457.3,250.5 458.1,252.9 459.0,254.0 C459.9,255.1 460.8,256.5 461.7,257.3 C462.6,258.1 463.5,259.2 464.2,258.9 C464.9,258.6 465.3,257.0 465.9,255.6 C466.5,254.2 467.0,250.5 467.6,250.5 C468.2,250.5 468.7,253.5 469.3,255.6 C469.9,257.7 470.3,260.9 471.0,263.0 C471.7,265.1 472.8,266.4 473.6,268.0 C474.5,269.6 475.1,271.6 476.1,272.6 C477.1,273.7 478.4,273.3 479.5,274.3 C480.6,275.3 481.7,277.5 482.7,278.7 C483.7,279.9 484.4,281.0 485.6,281.6 C486.8,282.2 488.4,282.1 490.0,282.2 C491.6,282.3 493.6,283.3 495.0,282.0 C496.4,280.7 497.6,274.4 498.7,274.3 C499.8,274.2 500.6,281.4 501.6,281.6 C502.6,281.9 503.7,276.4 504.6,275.8 C505.5,275.2 506.3,277.8 507.0,278.0 C507.7,278.2 508.7,277.2 509.0,277.0" stroke="#BE12D0"/>
<path d="M77.0,66.0 C77.5,66.3 79.0,67.2 80.0,68.0 C81.0,68.8 82.4,70.5 83.2,70.8 C84.0,71.1 84.4,70.5 85.0,70.0 C85.6,69.5 86.2,68.9 86.7,67.9 C87.2,66.9 87.5,65.5 87.9,63.8 C88.3,62.1 88.6,59.4 89.1,58.0 C89.6,56.6 90.3,55.3 90.8,55.3 C91.3,55.3 91.6,56.6 92.0,58.0 C92.4,59.4 92.7,62.0 93.1,63.8 C93.5,65.5 93.9,67.0 94.3,68.5 C94.7,70.0 94.8,72.3 95.2,72.6 C95.6,72.8 96.2,71.1 96.8,70.0 C97.4,68.9 98.1,67.0 98.7,66.2 C99.3,65.4 99.7,64.9 100.4,65.0 C101.1,65.1 102.0,65.7 102.7,66.7 C103.4,67.7 103.9,69.3 104.5,70.8 C105.1,72.3 105.6,74.1 106.2,75.5 C106.8,76.9 107.4,77.7 108.0,79.0 C108.6,80.3 109.0,83.0 109.6,83.5 C110.2,84.0 110.9,83.7 111.4,81.9 C111.9,80.2 112.2,75.8 112.7,73.0 C113.2,70.2 113.5,66.7 114.1,64.8 C114.7,62.9 115.4,62.0 116.1,61.4 C116.8,60.8 117.5,61.0 118.2,61.4 C118.9,61.8 119.6,62.5 120.2,63.5 C120.8,64.5 121.1,66.0 121.6,67.6 C122.0,69.2 122.5,71.5 122.9,73.0 C123.4,74.5 123.7,75.7 124.3,76.4 C124.9,77.1 125.6,77.3 126.3,77.1 C127.0,76.9 127.7,76.1 128.4,75.0 C129.1,73.9 129.8,70.9 130.4,70.4 C131.1,70.0 131.5,71.3 132.3,72.3 C133.1,73.3 134.4,75.1 135.2,76.2 C136.0,77.3 136.4,76.8 137.2,79.1 C138.0,81.4 138.9,85.0 140.0,90.0 C141.1,95.0 142.7,106.8 143.5,109.0 C144.3,111.2 144.5,105.0 145.0,103.0 C145.5,101.0 145.9,99.3 146.7,97.3 C147.5,95.2 149.2,92.2 150.0,90.7 C150.8,89.2 151.2,88.2 151.6,88.0 C152.0,87.8 152.3,88.0 152.7,89.7 C153.1,91.4 153.6,94.6 154.0,98.0 C154.4,101.4 154.9,106.5 155.3,110.0 C155.7,113.5 155.9,116.0 156.3,119.3 C156.8,122.6 157.5,126.8 158.0,130.0 C158.5,133.2 158.9,135.8 159.5,138.7 C160.1,141.6 160.8,145.1 161.6,147.5 C162.4,149.9 163.6,151.6 164.6,153.3 C165.6,155.0 166.5,156.0 167.5,157.7 C168.5,159.4 169.6,161.1 170.4,163.5 C171.2,165.9 171.8,166.7 172.6,172.0 C173.4,177.3 174.5,189.2 175.5,195.3 C176.5,201.4 177.8,205.0 178.7,208.4 C179.6,211.8 180.2,214.6 180.9,216.0 C181.6,217.4 182.4,216.6 183.1,217.1 C183.8,217.6 184.6,216.8 185.3,219.0 C186.0,221.2 186.8,226.1 187.5,230.2 C188.2,234.2 189.0,239.3 189.7,243.3 C190.4,247.3 190.9,250.9 191.8,254.2 C192.7,257.5 194.0,260.9 195.1,263.0 C196.2,265.1 197.0,265.6 198.5,267.0 C200.0,268.4 202.4,270.4 203.9,271.4 C205.4,272.4 205.9,273.1 207.3,273.1 C208.7,273.1 210.7,270.5 212.4,271.4 C214.1,272.2 216.1,275.6 217.5,278.2 C218.9,280.8 220.1,284.9 220.9,286.7 C221.7,288.5 221.9,289.1 222.5,289.0 C223.1,288.9 223.7,286.8 224.3,286.0 C224.9,285.2 225.4,283.3 226.0,284.0 C226.6,284.7 226.8,286.5 227.7,290.1 C228.5,293.7 230.0,303.2 231.1,305.4 C232.2,307.5 233.1,305.8 234.5,303.0 C235.9,300.2 237.9,294.2 239.6,288.4 C241.3,282.6 243.3,273.7 244.7,268.0 C246.1,262.3 247.0,259.5 248.1,254.4 C249.2,249.3 250.3,241.4 251.5,237.4 C252.7,233.4 253.9,231.3 255.0,230.6 C256.1,229.9 256.8,232.9 258.0,233.0 C259.2,233.1 260.5,232.2 262.0,231.0 C263.5,229.8 265.9,226.2 267.1,225.9 C268.4,225.6 268.7,227.2 269.5,229.0 C270.3,230.8 271.2,234.0 272.0,236.8 C272.8,239.6 273.6,242.8 274.4,246.0 C275.2,249.2 276.0,253.6 276.8,256.3 C277.6,259.0 278.5,260.4 279.3,262.0 C280.1,263.6 280.9,265.1 281.7,266.0 C282.5,266.9 283.3,266.7 284.1,267.5 C284.9,268.3 285.8,269.6 286.6,270.8 C287.4,272.1 288.2,273.4 289.0,275.0 C289.8,276.6 290.6,280.4 291.4,280.5 C292.2,280.6 293.0,275.7 293.8,275.7 C294.6,275.7 295.3,279.3 296.3,280.5 C297.3,281.7 298.5,283.4 299.9,283.0 C301.3,282.6 303.6,279.8 304.8,278.0 C306.0,276.2 306.2,273.8 307.0,272.0 C307.8,270.2 308.9,268.3 309.8,267.0 C310.7,265.7 311.6,266.3 312.5,264.0 C313.4,261.7 314.4,255.8 315.4,253.4 C316.4,251.0 317.3,249.8 318.3,249.5 C319.3,249.2 320.2,250.2 321.2,251.5 C322.2,252.8 323.1,255.5 324.1,257.3 C325.1,259.1 326.1,260.7 327.0,262.1 C327.9,263.6 328.8,266.0 329.6,266.0 C330.4,266.0 331.0,263.7 331.9,262.1 C332.8,260.5 334.0,256.7 334.8,256.3 C335.6,256.0 335.9,258.1 336.5,260.0 C337.1,261.9 337.8,265.0 338.7,268.0 C339.6,271.0 341.1,276.2 341.8,278.0 C342.5,279.8 342.4,278.2 343.0,278.7 C343.6,279.1 344.8,280.3 345.7,280.7 C346.6,281.1 346.8,281.2 348.3,281.3 C349.9,281.4 353.0,281.3 355.0,281.3 C357.0,281.3 359.2,281.7 360.3,281.3 C361.4,280.9 361.1,280.0 361.7,278.7 C362.3,277.4 363.0,275.1 363.7,273.3 C364.4,271.5 365.0,269.2 365.7,268.0 C366.4,266.8 367.1,266.7 367.7,266.0 C368.2,265.3 368.6,265.0 369.0,264.0 C369.4,263.0 369.7,263.7 370.3,260.0 C370.9,256.3 371.8,246.0 372.5,241.8 C373.2,237.6 373.7,236.2 374.6,234.6 C375.5,233.0 376.9,232.3 377.7,232.5 C378.5,232.7 379.0,234.7 379.7,235.6 C380.4,236.5 380.9,239.1 381.8,237.7 C382.7,236.3 384.0,229.8 384.9,227.4 C385.8,225.0 386.3,222.9 387.0,223.2 C387.7,223.5 388.3,226.3 389.0,229.4 C389.7,232.5 390.2,238.4 391.1,241.8 C392.0,245.2 393.2,247.8 394.2,250.0 C395.2,252.2 396.3,253.8 397.3,255.2 C398.3,256.6 399.1,256.6 400.0,258.3 C400.9,260.0 401.6,263.1 402.4,265.5 C403.2,267.9 404.1,270.8 404.9,272.8 C405.7,274.8 406.5,276.9 407.3,277.7 C408.1,278.5 408.9,277.1 409.7,277.7 C410.5,278.3 411.3,280.5 412.1,281.3 C412.9,282.1 413.8,281.5 414.6,282.5 C415.4,283.5 416.2,286.0 417.0,287.4 C417.8,288.8 418.9,290.6 419.4,291.0 C419.9,291.4 419.3,291.2 420.0,289.6 C420.7,288.0 422.3,283.2 423.4,281.1 C424.5,279.0 425.7,278.1 426.8,277.0 C427.9,275.9 429.1,275.2 430.2,274.3 C431.3,273.4 432.5,272.7 433.6,271.8 C434.7,270.9 436.0,270.5 437.0,269.2 C438.0,267.9 438.8,266.1 439.6,264.1 C440.5,262.1 441.2,259.6 442.1,257.3 C443.0,255.0 443.9,252.5 444.7,250.5 C445.5,248.5 446.5,247.1 447.2,245.4 C447.9,243.7 448.3,241.7 448.9,240.3 C449.5,238.9 450.0,237.3 450.6,236.9 C451.2,236.5 451.7,236.6 452.3,237.7 C452.9,238.8 453.4,242.1 454.0,243.7 C454.6,245.3 455.0,246.5 455.7,247.1 C456.4,247.7 457.5,247.7 458.2,247.1 C458.9,246.5 459.4,244.5 460.0,243.7 C460.6,242.8 461.1,241.4 461.7,242.0 C462.3,242.6 462.8,244.8 463.4,247.1 C464.0,249.4 464.4,252.8 465.1,255.6 C465.8,258.4 466.8,261.8 467.6,264.1 C468.5,266.4 469.4,267.6 470.2,269.2 C471.0,270.8 471.8,272.3 472.7,273.5 C473.6,274.7 474.4,275.5 475.3,276.5 C476.2,277.5 477.0,278.5 477.8,279.4 C478.6,280.2 479.4,281.0 480.0,281.6 C480.6,282.2 480.5,283.0 481.2,283.1 C481.9,283.2 482.5,282.2 484.0,282.0 C485.5,281.8 485.8,282.0 490.0,282.0 C494.2,282.0 505.8,282.0 509.0,282.0" stroke="#3F7A1E"/>
</g>
<line x1="131" y1="10.4" x2="131" y2="347.5" stroke="#DC8A22" stroke-width="2.6" stroke-dasharray="14.5 13.8"/>
<g font-size="22.5"><text x="65" y="356.4" text-anchor="end">-100</text><text x="65" y="288.5" text-anchor="end">0</text><text x="65" y="220.6" text-anchor="end">100</text><text x="65" y="152.8" text-anchor="end">200</text><text x="65" y="84.9" text-anchor="end">300</text><text x="65" y="17.0" text-anchor="end">400</text><text x="78.5" y="380" text-anchor="middle">20</text><text x="150.1" y="380" text-anchor="middle">30</text><text x="221.6" y="380" text-anchor="middle">40</text><text x="293.1" y="380" text-anchor="middle">50</text><text x="364.7" y="380" text-anchor="middle">60</text><text x="436.2" y="380" text-anchor="middle">70</text><text x="507.8" y="380" text-anchor="middle">80</text></g>
<g font-size="22.2"><rect x="340.8" y="43" width="130.7" height="143.7" fill="#fff" stroke="#000" stroke-width="1.6"/><line x1="343" y1="59.2" x2="395" y2="59.2" stroke="#000000" stroke-width="1.8"/><text x="400.5" y="65.9">0.47 nF</text><line x1="343" y1="87.2" x2="395" y2="87.2" stroke="#C0182A" stroke-width="1.8"/><text x="400.5" y="94.0">0.68 nF</text><line x1="343" y1="115.3" x2="395" y2="115.3" stroke="#1C0CA6" stroke-width="1.8"/><text x="400.5" y="122.0">1 nF</text><line x1="343" y1="143.4" x2="395" y2="143.4" stroke="#BE12D0" stroke-width="1.8"/><text x="400.5" y="150.1">1.5 nF</text><line x1="343" y1="171.4" x2="395" y2="171.4" stroke="#3F7A1E" stroke-width="1.8"/><text x="400.5" y="178.1">2.2 nF</text></g>
<text x="251.8" y="405.8" font-size="22">Time (ns)</text>
<text transform="translate(17.2,231.6) rotate(-90)" font-size="22.3">Voltage (V)</text>
</svg>
</body></html>
